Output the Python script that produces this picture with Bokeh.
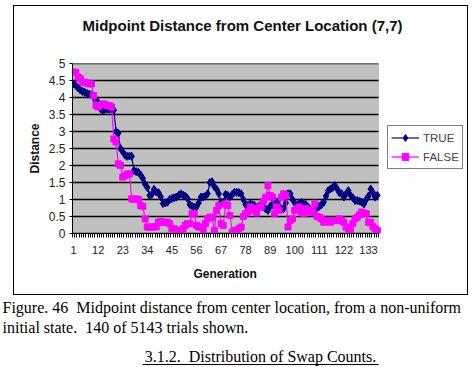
from bokeh.plotting import figure
from bokeh.layouts import column
from bokeh.models import (Range1d, FixedTicker, Label, BoxAnnotation, Legend, LegendItem, Title)
from bokeh.embed import file_html
from bokeh.resources import INLINE

# ---------------- data ----------------
generations = list(range(1, 138))
true_vals = [
    4.40, 4.35, 4.28, 4.22, 4.18, 4.15, 4.12, 4.10, 4.08, 4.00,
    3.92, 3.85, 3.67, 3.62, 3.65, 3.66, 3.65, 3.65, 3.63, 3.00,
    2.95, 2.50, 2.40, 2.30, 2.27, 2.28, 2.27, 1.85, 1.82, 1.80,
    1.72, 1.62, 1.45, 1.35, 1.12, 1.15, 1.30, 1.22, 1.20, 1.08,
    0.88, 0.90, 0.92, 1.00, 1.03, 1.05, 1.07, 1.12, 1.17, 1.13,
    1.10, 1.03, 0.85, 0.80, 0.78, 0.78, 0.90, 1.07, 1.07, 1.10,
    1.17, 1.50, 1.52, 1.38, 1.30, 1.17, 0.92, 0.92, 1.15, 1.12,
    1.07, 1.15, 1.21, 1.21, 1.20, 1.17, 1.00, 0.85, 0.82, 0.87,
    0.85, 0.82, 0.78, 0.80, 0.87, 0.78, 0.72, 0.68, 0.80, 0.85,
    0.97, 0.93, 0.80, 0.73, 0.73, 0.90, 1.17, 1.17, 1.00, 0.90,
    0.82, 0.88, 0.92, 0.87, 0.85, 0.78, 0.68, 0.63, 0.66, 0.75,
    0.80, 0.85, 0.92, 1.10, 1.26, 1.31, 1.35, 1.41, 1.31, 1.20,
    1.17, 1.07, 1.17, 1.26, 1.12, 1.05, 0.97, 0.97, 0.95, 0.92,
    0.87, 1.00, 1.10, 1.31, 1.20, 1.07, 1.12,
]
false_vals = [
    4.75, 4.74, 4.60, 4.55, 4.45, 4.45, 4.42, 4.40, 4.40, 4.06,
    3.76, 3.72, 3.78, 3.81, 3.80, 3.76, 3.76, 3.72, 2.78, 2.69,
    2.05, 2.00, 1.66, 1.70, 1.75, 1.75, 1.02, 1.00, 1.02, 1.00,
    0.82, 0.80, 0.43, 0.19, 0.19, 0.19, 0.19, 0.20, 0.33, 0.35,
    0.33, 0.33, 0.33, 0.29, 0.14, 0.14, 0.09, 0.09, 0.05, 0.14,
    0.24, 0.29, 0.29, 0.58, 0.58, 0.24, 0.19, 0.19, 0.09, 0.29,
    0.43, 0.48, 0.48, 0.09, 0.68, 0.82, 0.29, 0.24, 0.87, 0.82,
    0.53, 0.04, 0.09, 0.09, 0.14, 0.19, 0.50, 0.58, 0.63, 0.78,
    0.73, 0.68, 0.60, 0.78, 0.78, 0.95, 1.07, 1.41, 1.12, 1.07,
    0.58, 0.78, 0.68, 1.07, 1.17, 1.12, 0.19, 0.38, 0.43, 0.68,
    0.73, 0.78, 0.63, 0.58, 0.73, 0.68, 0.63, 0.63, 0.87, 0.50,
    0.48, 0.43, 0.33, 0.38, 0.38, 0.33, 0.38, 0.38, 0.38, 0.43,
    0.38, 0.33, 0.19, 0.14, 0.09, 0.30, 0.43, 0.48, 0.55, 0.63,
    0.60, 0.58, 0.33, 0.33, 0.20, 0.14, 0.09,
]
x_tick_labels = [1, 12, 23, 34, 45, 56, 67, 78, 89, 100, 111, 122, 133]
y_ticks = [0, 0.5, 1, 1.5, 2, 2.5, 3, 3.5, 4, 4.5, 5]
series_names = ["TRUE", "FALSE"]

title_text = "Midpoint Distance from Center Location (7,7)"
x_title = "Generation"
y_title = "Distance"
caption1 = "Figure. 46\u00a0 Midpoint distance from center location, from a non-uniform"
caption2 = "initial state.\u00a0 140 of 5143 trials shown."
heading = "3.1.2.\u00a0 Distribution of Swap Counts."

SANS = "Liberation Sans"
SERIF = "Liberation Serif"

# ---------------- geometry (page pixels) ----------------
W = 474
CHART_H = 295                                   # chart figure: page y 0..295
BOX_L, BOX_R, BOX_T, BOX_B = 13, 467, 5, 294    # Excel chart-area border
PA_L, PA_R, PA_T, PA_B = 72, 378, 63, 233       # grey plot area
FR_L, FR_R, FR_T, FR_B = PA_L, BOX_R - 1, PA_T, PA_B  # bokeh frame (extends right for legend)

n = len(generations)
x0, x1 = 0.5, n + 0.5
y0, y1 = y_ticks[0], y_ticks[-1]
px_per_x = (PA_R - PA_L) / (x1 - x0)
x_end = x0 + (FR_R - FR_L) / px_per_x

border_css = {
    "background-image": ", ".join(["linear-gradient(#000,#000)"] * 4),
    "background-position": f"{BOX_L}px {BOX_T}px, {BOX_L}px {BOX_B}px, {BOX_L}px {BOX_T}px, {BOX_R}px {BOX_T}px",
    "background-size": f"{BOX_R - BOX_L + 1}px 1px, {BOX_R - BOX_L + 1}px 1px, 1px {BOX_B - BOX_T + 1}px, 1px {BOX_B - BOX_T + 1}px",
    "background-repeat": "no-repeat",
}

p = figure(width=W, height=CHART_H, output_backend="svg", toolbar_location=None,
           x_range=Range1d(x0, x_end), y_range=Range1d(y0, y1),
           min_border_left=FR_L, min_border_right=W - FR_R,
           min_border_top=FR_T, min_border_bottom=CHART_H - FR_B,
           title=None, styles=border_css, frame_align=False)
p.background_fill_alpha = 0
p.border_fill_alpha = 0
p.outline_line_color = None
p.xgrid.visible = False
p.ygrid.visible = False

# spacer between frame and title, then the chart title (side panel above the frame)
p.add_layout(Title(text="\u00a0", text_font_size="1px", standoff=27), "above")
p.add_layout(Title(text=title_text, align="left", offset=10, standoff=0,
                   text_font=SANS, text_font_style="bold", text_font_size="15px",
                   text_color="#111111"), "above")

# grey plot area (Excel plot-area fill) spanning the category/value extent
p.add_layout(BoxAnnotation(left=x0, right=x1, bottom=y0, top=y1, level="image",
                           fill_color="#C0C0C0", fill_alpha=1,
                           line_color="#808080", line_width=1))
# horizontal gridlines at the value ticks
p.segment(x0=[x0] * len(y_ticks), x1=[x1] * len(y_ticks), y0=y_ticks, y1=y_ticks,
          line_color="#000000", line_width=1.5)

xa = p.xaxis[0]
xa.bounds = (x0, x1)
xa.ticker = FixedTicker(ticks=x_tick_labels,
                        minor_ticks=[i + 0.5 for i in range(0, n + 1)])
xa.major_tick_in = 0
xa.major_tick_out = 0
xa.minor_tick_in = 0
xa.minor_tick_out = 4
xa.minor_tick_line_color = "#000000"
xa.axis_line_color = "#000000"
xa.major_label_standoff = 8
xa.major_label_text_font = SANS
xa.major_label_text_font_size = "11px"
xa.major_label_text_color = "#222222"

# x-axis title, centred under the plot area
p.add_layout(Title(text=x_title, align="left", offset=121, standoff=16,
                   text_font=SANS, text_font_style="bold", text_font_size="12px",
                   text_color="#111111"), "below")

ya = p.yaxis[0]
ya.bounds = (y0, y1)
ya.ticker = FixedTicker(ticks=y_ticks)
ya.major_tick_in = 0
ya.major_tick_out = 3
ya.minor_tick_line_color = None
ya.axis_line_color = "#000000"
ya.major_label_standoff = 4
ya.major_label_text_font = SANS
ya.major_label_text_font_size = "12px"
ya.major_label_text_color = "#222222"
ya.axis_label = y_title
ya.axis_label_text_font = SANS
ya.axis_label_text_font_style = "bold"
ya.axis_label_text_font_size = "12px"
ya.axis_label_text_color = "#111111"
ya.axis_label_standoff = 4

l1 = p.line(generations, true_vals, line_color="#000080", line_width=1.2)
s1 = p.scatter(generations, true_vals, marker="diamond", size=8,
               fill_color="#000080", line_color="#000080")
l2 = p.line(generations, false_vals, line_color="#FF00FF", line_width=1.2)
s2 = p.scatter(generations, false_vals, marker="square", size=6,
               fill_color="#FF00FF", line_color="#FF00FF")

legend = Legend(items=[LegendItem(label=series_names[0], renderers=[l1, s1]),
                       LegendItem(label=series_names[1], renderers=[l2, s2])],
                location=(387 - FR_L, FR_B - 169))
legend.border_line_color = "#000000"
legend.border_line_width = 1
legend.background_fill_color = "white"
legend.background_fill_alpha = 1
legend.label_text_font = SANS
legend.label_text_font_size = "11.5px"
legend.padding = 3
legend.spacing = 2
legend.margin = 0
legend.glyph_width = 28
legend.glyph_height = 17
legend.label_height = 17
legend.label_standoff = 4
p.add_layout(legend)

# ---------------- caption below the chart ----------------
CAP_H = 367 - CHART_H
cap = figure(width=W, height=CAP_H, output_backend="svg", toolbar_location=None,
             x_axis_type=None, y_axis_type=None, x_range=Range1d(0, 1), y_range=Range1d(0, 1),
             min_border=0, title=None, frame_align=False)
cap.outline_line_color = None
cap.background_fill_alpha = 0
cap.border_fill_alpha = 0
cap.grid.visible = False

def cy(page_y):
    return 367 - page_y

cap.add_layout(Label(x=2, y=cy(307), x_units="screen", y_units="screen",
                     text=caption1, text_align="left", text_baseline="alphabetic",
                     text_font=SERIF, text_font_size="16px", text_color="#000000"))
cap.add_layout(Label(x=2, y=cy(327), x_units="screen", y_units="screen",
                     text=caption2, text_align="left", text_baseline="alphabetic",
                     text_font=SERIF, text_font_size="16px", text_color="#000000"))
cap.add_layout(Label(x=260, y=cy(356), x_units="screen", y_units="screen",
                     text=heading, text_align="center", text_baseline="alphabetic",
                     text_font=SERIF, text_font_size="16px", text_color="#000000"))
cap.add_layout(BoxAnnotation(left=142, right=378, top=cy(363.4), bottom=cy(364.6),
                             left_units="screen", right_units="screen",
                             top_units="screen", bottom_units="screen",
                             fill_color="#000000", fill_alpha=1, line_alpha=0))

root = column(p, cap, spacing=0)

html = file_html(root, INLINE, title="Midpoint Distance")
html = html.replace("<head>", "<head><style>html,body{margin:0;padding:0;overflow:hidden;}</style>", 1)
open("out.html", "w").write(html)
